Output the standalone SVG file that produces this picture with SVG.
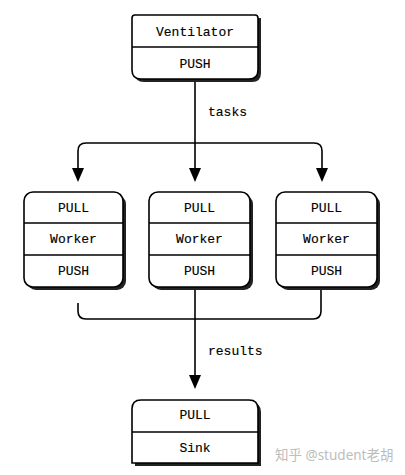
<svg xmlns="http://www.w3.org/2000/svg" width="405" height="475" viewBox="0 0 405 475">
<style>
.box{fill:#fff;stroke:#000;stroke-width:1.6}
.sh{fill:#222;stroke:none}
.div{stroke:#000;stroke-width:1.4}
.t{font-family:"Liberation Mono","Courier New",monospace;font-size:13px;fill:#000;text-anchor:middle;stroke:#000;stroke-width:0.15}
.lbl{font-family:"Liberation Mono","Courier New",monospace;font-size:13px;fill:#000;stroke:#000;stroke-width:0.15}
.c{fill:none;stroke:#000;stroke-width:1.6}
.wm{font-family:"Noto Sans","Noto Sans CJK SC",sans-serif;font-size:13.5px;fill:#bdbdbd}
</style>
<g id="connectors">
<path class="c" d="M195,79 V168"/>
<path class="c" d="M78,168 V151 Q78,143 86,143 H314 Q322,143 322,151 V168"/>
<path d="M72,168 L84,168 L78,182 Z" fill="#000"/>
<path d="M189,168 L201,168 L195,182 Z" fill="#000"/>
<path d="M316,168 L328,168 L322,182 Z" fill="#000"/>
<path class="c" d="M78,303 V311 Q78,319 86,319 H313 Q321,319 321,311 V288"/>
<path class="c" d="M195,288 V375"/>
<path d="M189,375 L201,375 L195,389 Z" fill="#000"/>
<text class="lbl" x="208" y="116">tasks</text>
<text class="lbl" x="208" y="355">results</text>
</g>
<g id="ventilator">
<path class="sh" d="M135,18 H261 V73 Q261,82 252,82 H144 Q135,82 135,73 Z"/>
<path class="box" d="M135,15 H255 Q258,15 258,18 V70 Q258,79 249,79 H141 Q132,79 132,70 V18 Q132,15 135,15 Z"/>
<line class="div" x1="132" y1="47" x2="258" y2="47"/>
<text class="t" x="195" y="36">Ventilator</text>
<text class="t" x="195" y="68">PUSH</text>
</g>
<g id="worker1">
<rect class="sh" x="27" y="195" width="99" height="95" rx="9"/>
<rect class="box" x="24" y="192" width="99" height="95" rx="9"/>
<line class="div" x1="24" y1="223" x2="123" y2="223"/>
<line class="div" x1="24" y1="255" x2="123" y2="255"/>
<text class="t" x="73.5" y="212">PULL</text>
<text class="t" x="73.5" y="243">Worker</text>
<text class="t" x="73.5" y="275">PUSH</text>
</g>
<g id="worker2">
<rect class="sh" x="152" y="195" width="101" height="95" rx="9"/>
<rect class="box" x="149" y="192" width="101" height="95" rx="9"/>
<line class="div" x1="149" y1="223" x2="250" y2="223"/>
<line class="div" x1="149" y1="255" x2="250" y2="255"/>
<text class="t" x="199.5" y="212">PULL</text>
<text class="t" x="199.5" y="243">Worker</text>
<text class="t" x="199.5" y="275">PUSH</text>
</g>
<g id="worker3">
<rect class="sh" x="279" y="195" width="101" height="95" rx="9"/>
<rect class="box" x="276" y="192" width="101" height="95" rx="9"/>
<line class="div" x1="276" y1="223" x2="377" y2="223"/>
<line class="div" x1="276" y1="255" x2="377" y2="255"/>
<text class="t" x="326.5" y="212">PULL</text>
<text class="t" x="326.5" y="243">Worker</text>
<text class="t" x="326.5" y="275">PUSH</text>
</g>
<g id="sink">
<path class="sh" d="M144,403 H252 Q261,403 261,412 V466 H135 V412 Q135,403 144,403 Z"/>
<path class="box" d="M141,400 H249 Q258,400 258,409 V463 H132 V409 Q132,400 141,400 Z"/>
<line class="div" x1="132" y1="432" x2="258" y2="432"/>
<text class="t" x="195" y="419">PULL</text>
<text class="t" x="195" y="452">Sink</text>
</g>
<text class="wm" x="275" y="460">知乎 @student老胡</text>
</svg>
